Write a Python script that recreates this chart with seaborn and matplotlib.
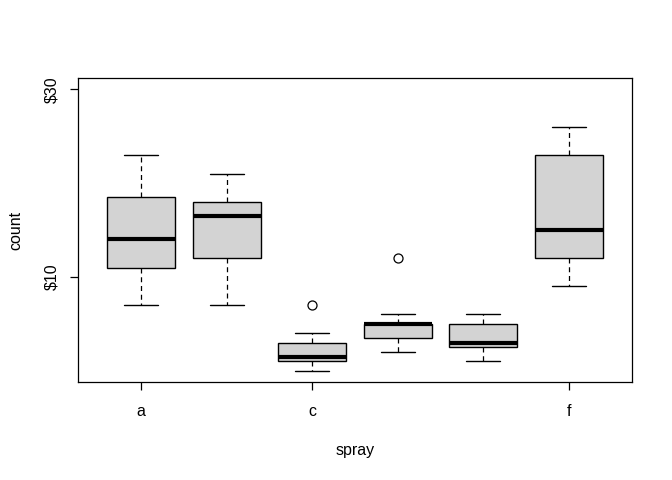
import numpy as np
import pandas as pd
import matplotlib
matplotlib.use("Agg")
import matplotlib.pyplot as plt
import seaborn as sns

# InsectSprays counts
spray_a = [10, 7, 20, 14, 14, 12, 10, 23, 17, 20, 14, 13]
spray_b = [11, 17, 21, 11, 16, 14, 17, 17, 19, 21, 7, 13]
spray_c = [0, 1, 7, 2, 3, 1, 2, 1, 3, 0, 1, 4]
spray_d = [3, 5, 12, 6, 4, 3, 5, 5, 5, 5, 2, 4]
spray_e = [3, 5, 3, 5, 3, 6, 1, 1, 3, 2, 6, 4]
spray_f = [11, 9, 15, 22, 15, 16, 13, 10, 26, 26, 24, 13]
categories = ["a", "b", "c", "d", "e", "f"]
shown_ticks = ["a", "c", "f"]
y_ticks = [10, 30]
y_tick_labels = ["$10", "$30"]

series = [spray_a, spray_b, spray_c, spray_d, spray_e, spray_f]
df = pd.DataFrame({
    "spray": np.repeat(categories, [len(s) for s in series]),
    "count": np.concatenate(series),
})

sns.set_style("white")
plt.rcParams["font.family"] = ["Liberation Sans", "DejaVu Sans"]
plt.rcParams["text.color"] = "black"
plt.rcParams["axes.labelcolor"] = "black"

fig = plt.figure(figsize=(6.72, 4.8), dpi=100)
ax = fig.add_axes([78 / 672, 1 - 382 / 480, (632 - 78) / 672, (382 - 78) / 480])

# R-style hinges (Tukey) equal midpoint percentiles for these sample sizes
_orig_pct = np.percentile
def _pct(a, q, *args, **kw):
    kw.setdefault("method", "midpoint")
    return _orig_pct(a, q, *args, **kw)
np.percentile = _pct
sns.boxplot(
    data=df, x="spray", y="count", order=categories, ax=ax,
    color="#D3D3D3", width=0.8, linecolor="black", linewidth=1.0,
    saturation=1,
    boxprops=dict(facecolor="#D3D3D3", edgecolor="black", linewidth=1.0),
    whiskerprops=dict(color="black", linestyle=(0, (4, 3)), linewidth=0.9),
    capprops=dict(color="black", linewidth=1.0),
    medianprops=dict(color="black", linewidth=3),
    flierprops=dict(marker="o", markerfacecolor="none", markeredgecolor="black",
                    markersize=6.5, markeredgewidth=0.9),
)
np.percentile = _orig_pct

ax.set_xlim(-0.74, 5.74)
ax.set_ylim(-1.2, 31.2)
ax.set_xticks([categories.index(c) for c in shown_ticks])
ax.set_xticklabels(shown_ticks)
ax.set_yticks(y_ticks)
ax.set_yticklabels(y_tick_labels, rotation=90, va="center")
ax.tick_params(axis="both", direction="out", length=6, width=0.9, colors="black",
               labelcolor="black", labelsize=11.5, bottom=True, left=True)
ax.tick_params(axis="y", pad=7.5)
ax.tick_params(axis="x", pad=10)
for s in ax.spines.values():
    s.set_visible(True)
    s.set_color("black")
    s.set_linewidth(0.9)
ax.set_xlabel("spray", fontsize=11.5, labelpad=17, color="black")
ax.set_ylabel("count", fontsize=11.5, labelpad=15, color="black")
ax.grid(False)

fig.savefig("out.png", dpi=100)
